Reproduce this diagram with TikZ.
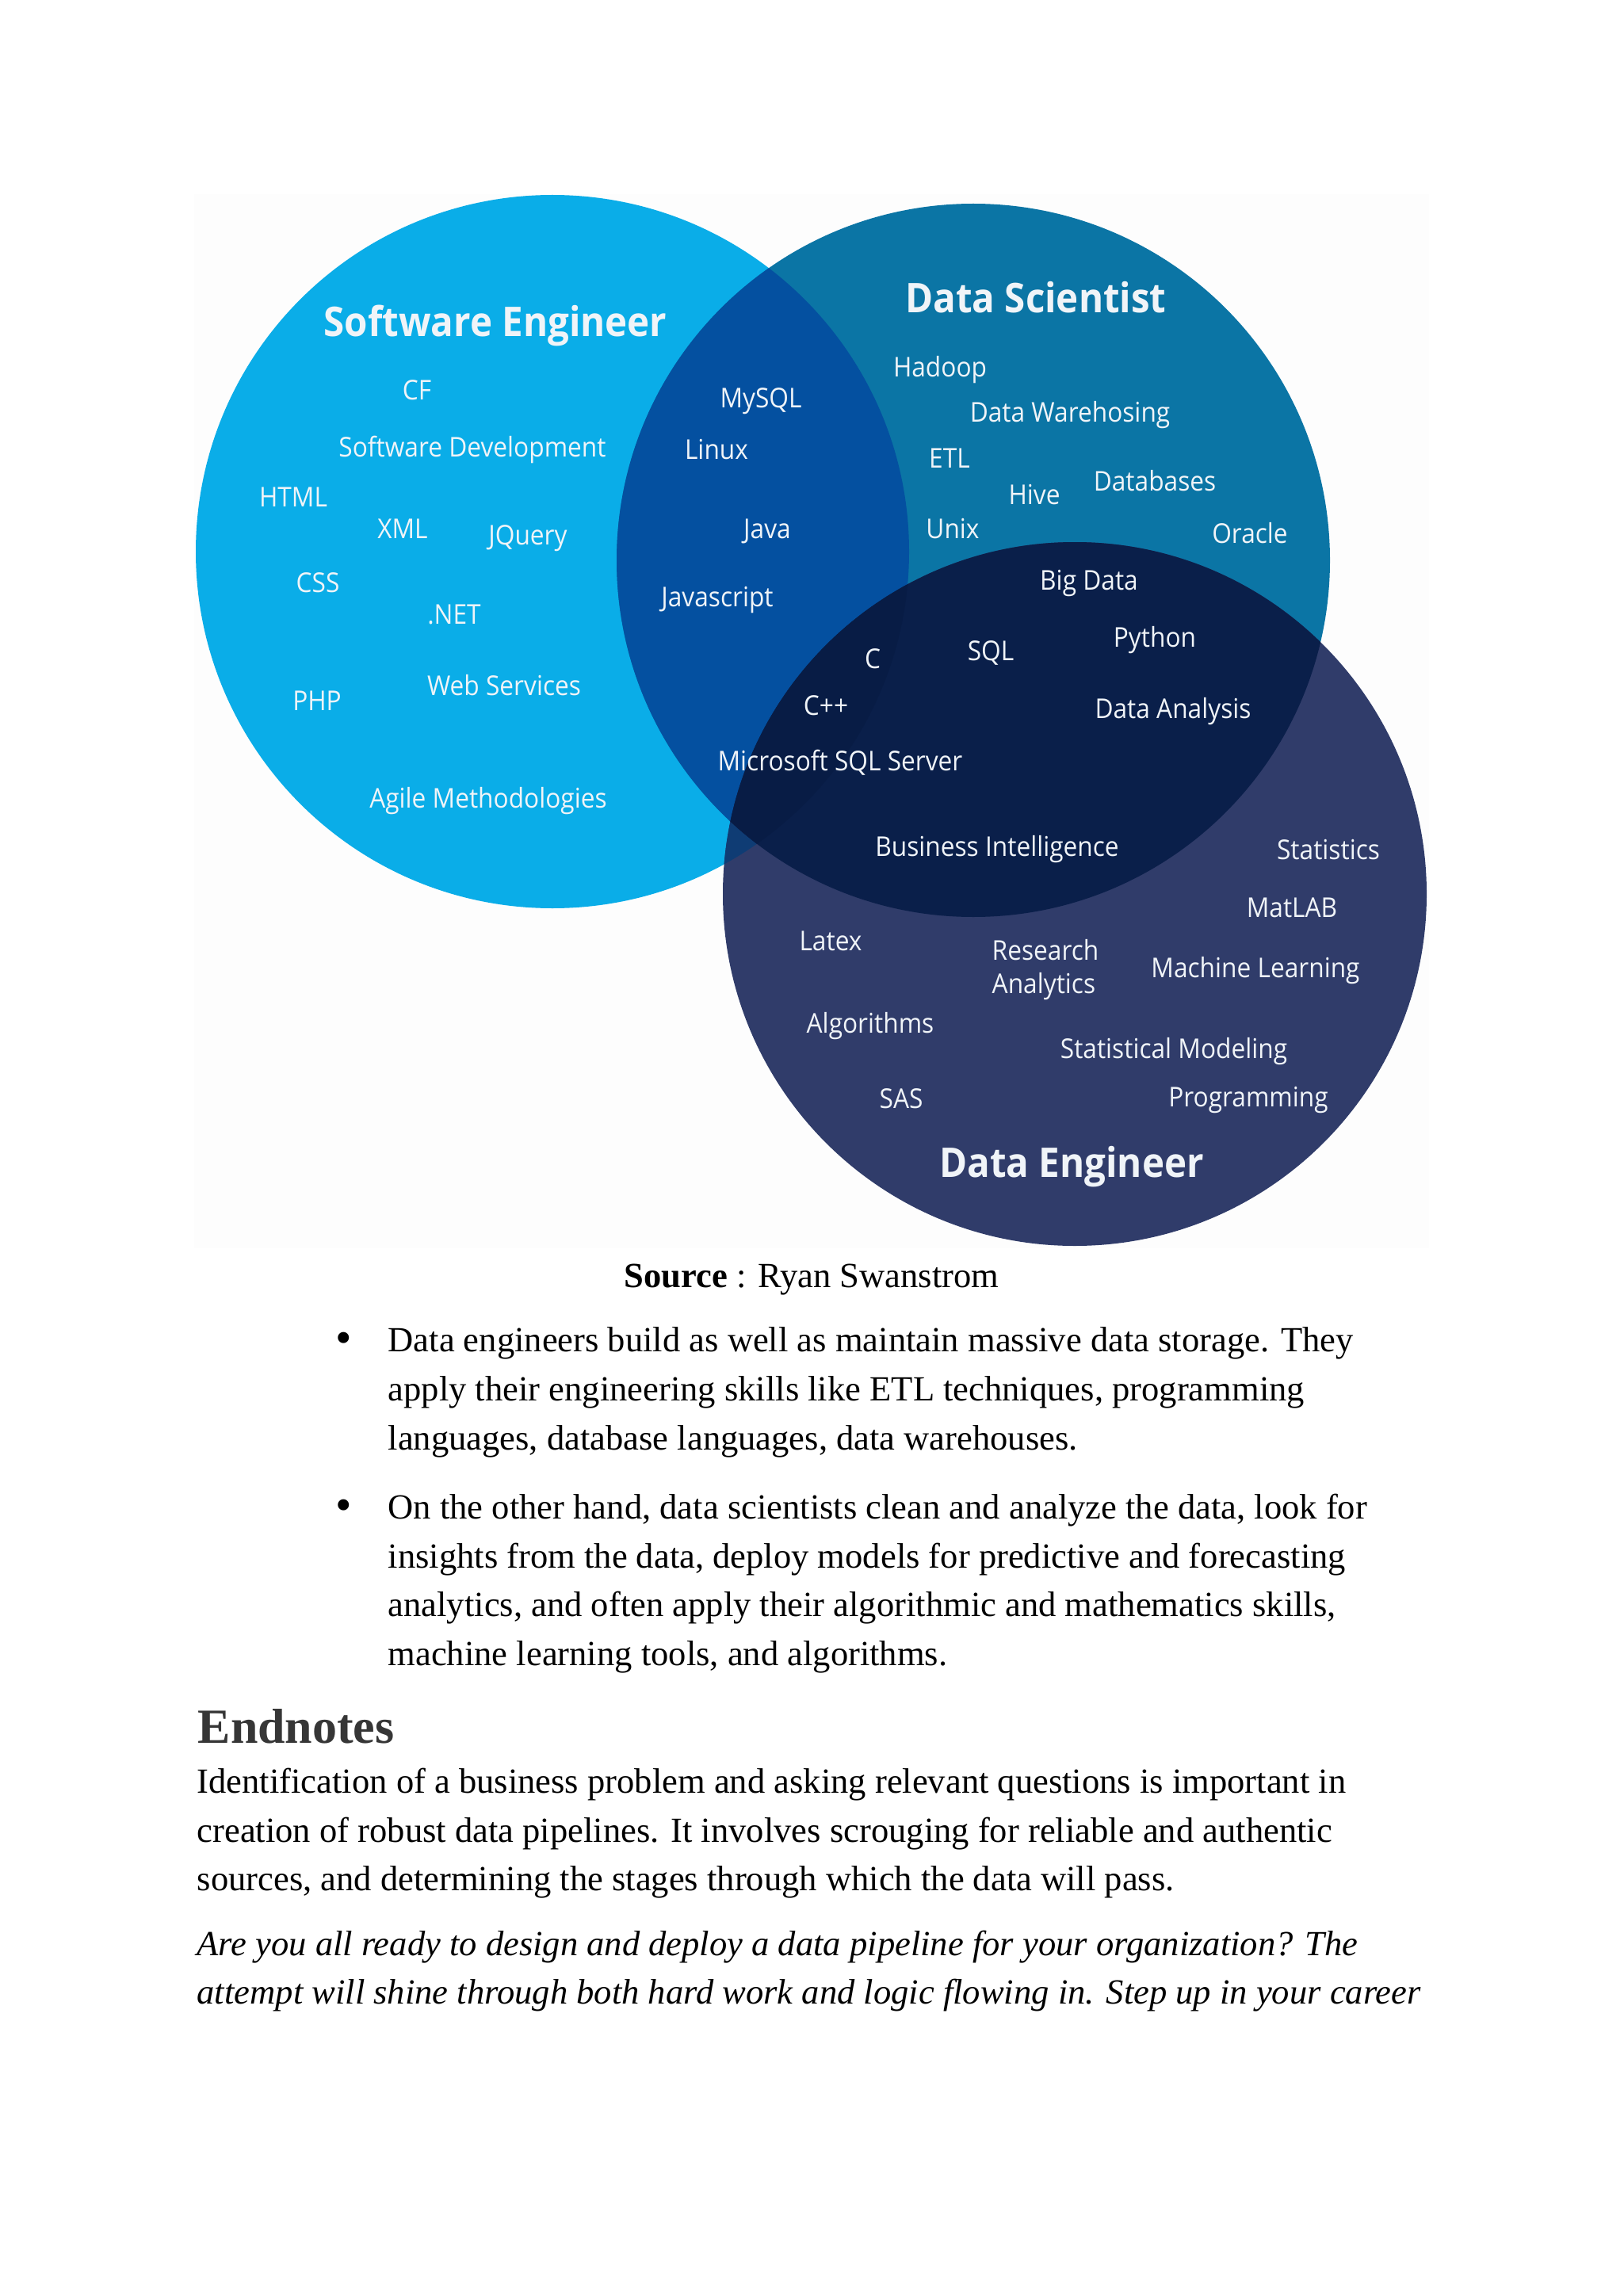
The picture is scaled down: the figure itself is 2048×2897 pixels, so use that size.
\documentclass[tikz,border=0pt]{standalone}
\usepackage{fontspec}
\setmainfont{Liberation Serif}
\newfontfamily\vennfont[FakeStretch=0.92]{Open Sans}
\definecolor{seC}{HTML}{0AADE8}
\definecolor{dsC}{HTML}{0B75A5}
\definecolor{deC}{HTML}{303C6A}
\definecolor{sedsC}{HTML}{0450A0}
\definecolor{sedeC}{HTML}{0F3C74}
\definecolor{dsdeC}{HTML}{0A1F4A}
\definecolor{allC}{HTML}{081C45}
\definecolor{labC}{HTML}{F0F4F8}
\definecolor{headC}{HTML}{363636}
\definecolor{bgbox}{HTML}{FDFDFD}
\begin{document}
\begin{tikzpicture}[x=0.29053pt,y=-0.29053pt,
  lab/.style={font=\vennfont\fontsize{10}{12}\selectfont, text=labC, inner sep=0pt, anchor=mid, yshift=-1.7pt},
  ttl/.style={font=\vennfont\bfseries\fontsize{15}{18}\selectfont, text=labC, inner sep=0pt, anchor=mid, yshift=-2.5pt},
  bodytxt/.style={font=\fontsize{12.95}{15}\selectfont, text=black, inner sep=0pt, anchor=base west},
  bul/.style={font=\fontsize{12.95}{15}\selectfont, text=black, inner sep=0pt, anchor=base}]
\useasboundingbox (0,0) rectangle (2048,2897);
\fill[white] (0,0) rectangle (2048,2897);
\fill[bgbox] (245,245) rectangle (1803,1575);
% circles
\def\se{(697,696) circle[radius=450]}
\def\ds{(1228,707) circle[radius=450]}
\def\de{(1356,1128) circle[radius=444]}
\fill[seC] \se;
\fill[dsC] \ds;
\fill[deC] \de;
\begin{scope}\clip \se; \fill[sedsC] \ds; \end{scope}
\begin{scope}\clip \se; \fill[sedeC] \de; \end{scope}
\begin{scope}\clip \ds; \fill[dsdeC] \de; \end{scope}
\begin{scope}\clip \se; \clip \ds; \fill[allC] \de; \end{scope}
% titles
\node[ttl] (tse) at (625,408) {Software Engineer};
\node[ttl] (tds) at (1307,378) {Data Scientist};
\node[ttl] (tde) at (1352,1469) {Data Engineer};
% software engineer
\node[lab] (cf) at (526,491) {CF};
\node[lab] (swd) at (596,563) {Software Development};
\node[lab] (html) at (370,626) {HTML};
\node[lab] (xml) at (508,666) {XML};
\node[lab] (jq) at (666,674) {JQuery};
\node[lab] (css) at (401,734) {CSS};
\node[lab] (net) at (573,774) {.NET};
\node[lab] (ws) at (636,864) {Web Services};
\node[lab] (php) at (400,883) {PHP};
\node[lab] (agile) at (616,1006) {Agile Methodologies};
% SE and DS
\node[lab] (mysql) at (960,501) {MySQL};
\node[lab] (linux) at (904,566) {Linux};
\node[lab] (java) at (968,666) {Java};
\node[lab] (js) at (905,752) {Javascript};
% data scientist
\node[lab] (hadoop) at (1186,462) {Hadoop};
\node[lab] (dwh) at (1350,519) {Data Warehosing};
\node[lab] (etl) at (1198,577) {ETL};
\node[lab] (hive) at (1305,623) {Hive};
\node[lab] (dbs) at (1457,606) {Databases};
\node[lab] (unix) at (1202,666) {Unix};
\node[lab] (oracle) at (1577,672) {Oracle};
% center
\node[lab] (bigdata) at (1374,731) {Big Data};
\node[lab] (python) at (1457,803) {Python};
\node[lab] (sql) at (1250,820) {SQL};
\node[lab] (c) at (1101,830) {C};
\node[lab] (cpp) at (1042,889) {C++};
\node[lab] (da) at (1480,893) {Data Analysis};
\node[lab] (mssql) at (1060,959) {Microsoft SQL Server};
\node[lab] (bi) at (1258,1067) {Business Intelligence};
% data engineer
\node[lab] (stats) at (1676,1071) {Statistics};
\node[lab] (matlab) at (1630,1144) {MatLAB};
\node[lab] (latex) at (1048,1186) {Latex};
\node[lab,anchor=mid west] (research) at (1251,1198) {Research};
\node[lab,anchor=mid west] (analytics) at (1251,1240) {Analytics};
\node[lab] (ml) at (1584,1220) {Machine Learning};
\node[lab] (algo) at (1098,1290) {Algorithms};
\node[lab] (statmod) at (1481,1322) {Statistical Modeling};
\node[lab] (sas) at (1137,1385) {SAS};
\node[lab] (prog) at (1575,1383) {Programming};
% text below
\node[bul] (src) at (1024,1624) {\textbf{Source} : Ryan Swanstrom};
\node[bul,font=\fontsize{17}{18}\selectfont] (b1) at (434,1707) {•};
\node[bodytxt] (b1a) at (489,1705) {Data engineers build as well as maintain massive data storage. They};
\node[bodytxt] (b1b) at (489,1767) {apply their engineering skills like ETL techniques, programming};
\node[bodytxt] (b1c) at (489,1829) {languages, database languages, data warehouses.};
\node[bul,font=\fontsize{17}{18}\selectfont] (b2) at (434,1918) {•};
\node[bodytxt] (b2a) at (489,1916) {On the other hand, data scientists clean and analyze the data, look for};
\node[bodytxt] (b2b) at (489,1978) {insights from the data, deploy models for predictive and forecasting};
\node[bodytxt] (b2c) at (489,2039) {analytics, and often apply their algorithmic and mathematics skills,};
\node[bodytxt] (b2d) at (489,2101) {machine learning tools, and algorithms.};
\node[bodytxt,font=\bfseries\fontsize{18}{21}\selectfont,text=headC] (endn) at (249,2199) {Endnotes};
\node[bodytxt] (p1) at (248,2262) {Identification of a business problem and asking relevant questions is important in};
\node[bodytxt] (p2) at (248,2324) {creation of robust data pipelines. It involves scrouging for reliable and authentic};
\node[bodytxt] (p3) at (248,2385) {sources, and determining the stages through which the data will pass.};
\node[bodytxt,font=\itshape\fontsize{12.95}{15}\selectfont] (i1) at (248,2467) {Are you all ready to design and deploy a data pipeline for your organization? The};
\node[bodytxt,font=\itshape\fontsize{12.95}{15}\selectfont] (i2) at (248,2528) {attempt will shine through both hard work and logic flowing in. Step up in your career};
\end{tikzpicture}
\end{document}
